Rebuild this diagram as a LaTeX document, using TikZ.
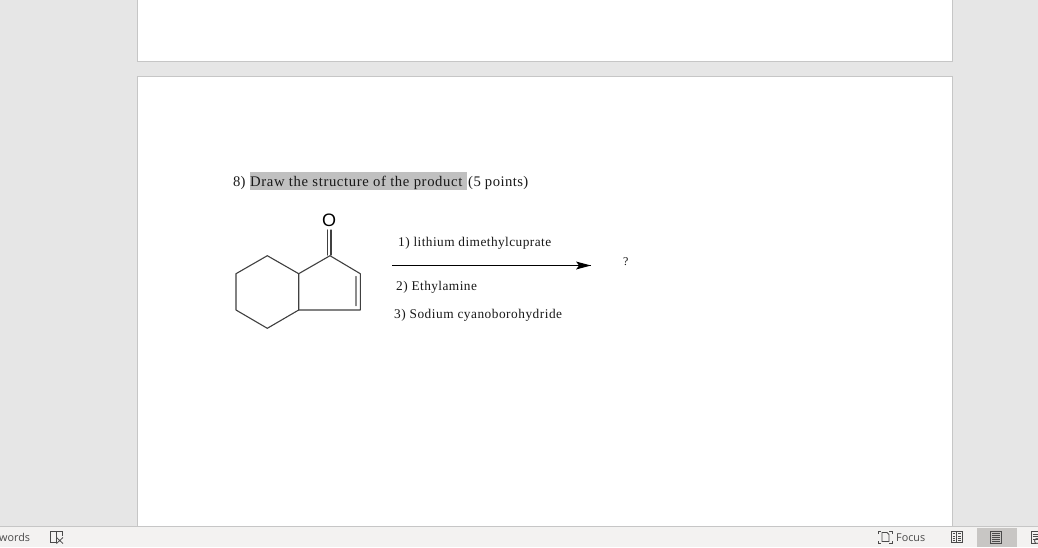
\documentclass[tikz,border=0pt]{standalone}
\usepackage{fontspec}
\setmainfont{Liberation Serif}
\newfontfamily\uifont{Open Sans}
\newfontfamily\molfont{Liberation Sans}
\newfontfamily\headfont[LetterSpace=4.3]{Liberation Serif}
\newfontfamily\ptsfont[LetterSpace=3.0]{Liberation Serif}
\newfontfamily\reagfont[LetterSpace=3.3]{Liberation Serif}
\newfontfamily\reaglong[LetterSpace=3.8]{Liberation Serif}
\definecolor{bgc}{HTML}{E6E6E6}
\definecolor{edgec}{HTML}{C6C6C6}
\definecolor{barc}{HTML}{F3F2F1}
\definecolor{hlc}{HTML}{C0C0C0}
\definecolor{selc}{HTML}{C8C6C4}
\definecolor{iconc}{HTML}{4A4A4A}
\tikzset{
  pagebox/.style={draw=edgec,fill=white,line width=1pt},
  bond/.style={draw=black!75,line width=1.1pt,line cap=round,line join=round},
  innerbond/.style={draw=black!45,line width=1.1pt,line cap=round},
  txt/.style={inner sep=0pt,anchor=base west,text=black!90},
  uit/.style={inner sep=0pt,anchor=base west,text=iconc,font=\uifont\fontsize{10.8}{12}\selectfont},
  icon/.style={draw=iconc,line width=0.8pt}
}
\begin{document}
\begin{tikzpicture}[x=1pt,y=-1pt]
\useasboundingbox (0,0) rectangle (1038,547);
\fill[bgc] (0,0) rectangle (1038,547);
\draw[pagebox] (137.5,-5) rectangle (952.5,61.5);
\draw[pagebox] (137.5,76.5) rectangle (952.5,540);
% status bar
\fill[barc] (0,527) rectangle (1038,547);
\draw[edgec,line width=1pt] (0,526.5) -- (1038,526.5);
\fill[selc] (977,527.5) rectangle (1017,547);
% heading
\fill[hlc] (250,172.3) rectangle (467,189.7);
\node[txt] (num) at (233,186.5) {\fontsize{14.67}{16}\selectfont 8)};
\node[txt] (head) at (250,186.5) {\headfont\fontsize{14.67}{16}\selectfont Draw the structure of the product};
\node[txt] (pts) at (468,186.5) {\ptsfont\fontsize{14.67}{16}\selectfont (5 points)};
% molecule
\coordinate (a1) at (267.3,255.7);
\coordinate (a2) at (298.7,273.7);
\coordinate (a3) at (298.7,310);
\coordinate (a4) at (267.3,328.3);
\coordinate (a5) at (236,310);
\coordinate (a6) at (236,273.7);
\coordinate (b1) at (330,255.7);
\coordinate (b2) at (360.3,273.7);
\coordinate (b3) at (360.3,310);
\coordinate (d1) at (356,276.5);
\coordinate (d2) at (356,305.7);
\coordinate (o1) at (327.4,255);
\coordinate (o2) at (327.4,230);
\coordinate (o3) at (331,255);
\coordinate (o4) at (331,230);
\draw[bond] (a1)--(a2)--(a3)--(a4)--(a5)--(a6)--cycle;
\draw[bond] (a2)--(b1)--(b2)--(b3)--(a3);
\draw[innerbond] (d1)--(d2);
\draw[bond] (o1)--(o2) (o3)--(o4);
\node[inner sep=0pt,font=\molfont\fontsize{18}{20}\selectfont] (oxy) at (329,220.5) {O};
% reagents
\node[txt] (r1) at (398,246) {\reagfont\fontsize{13.33}{15}\selectfont 1) lithium dimethylcuprate};
\node[txt] (r2) at (396,290) {\reagfont\fontsize{13.33}{15}\selectfont 2) Ethylamine};
\node[txt] (r3) at (394,318) {\reaglong\fontsize{13.33}{15}\selectfont 3) Sodium cyanoborohydride};
\node[txt] (q) at (623,265.5) {\fontsize{12}{14}\selectfont ?};
\coordinate (s) at (392,265.5);
\coordinate (e) at (591,265.5);
\draw[black,line width=1pt] (s) -- (e);
\fill[black] (e) -- (576,261.5) -- (579,265.5) -- (576,269.5) -- cycle;
% status text
\node[uit] (w) at (-1,541) {words};
\node[uit] (f) at (896,541.5) {Focus};
% proofing icon
\draw[icon] (56,531.5) -- (50,531.5) -- (50,542) -- (56,542) -- (56,531.5) -- (62,531.5) -- (62,536);
\draw[icon] (56.5,537.5) -- (63,543.5) (63,537.5) -- (56.5,543.5);
% focus icon
\draw[icon] (878,534) -- (878,531.5) -- (881,531.5) (889,531.5) -- (892,531.5) -- (892,534) (878,541) -- (878,543.5) -- (881,543.5) (889,543.5) -- (892,543.5) -- (892,541);
\draw[icon] (882,532.5) -- (887,532.5) -- (889,534.5) -- (889,541.5) -- (882,541.5) -- cycle;
% read mode icon
\draw[icon] (951,531) rectangle (962,542.5) (956.5,531) -- (956.5,543);
\foreach \yy in {533.5,536,538.5,540.5}{\draw[icon,line width=.6pt] (952.5,\yy) -- (955,\yy) (958,\yy) -- (960.5,\yy);}
% print layout icon
\draw[icon] (990.5,531) rectangle (1001.5,543.5);
\foreach \yy in {533.5,535.5,537.5,539.5,541.5}{\draw[icon,line width=.7pt] (992,\yy) -- (1000,\yy);}
% web layout icon
\draw[icon] (1031,531) -- (1038,531) (1031,531) -- (1031,543.5) -- (1036,543.5);
\foreach \yy in {534,536.5,539}{\draw[icon,line width=.7pt] (1032.5,\yy) -- (1038,\yy);}
\draw[icon] (1037,541) circle (2.5);
\end{tikzpicture}
\end{document}
